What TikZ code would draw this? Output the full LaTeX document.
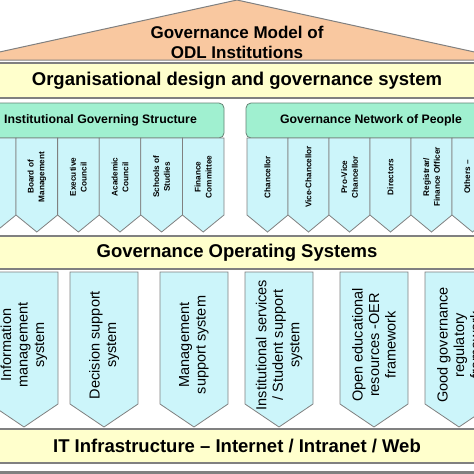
\documentclass[tikz,border=0pt]{standalone}
\usepackage{fontspec}
\setmainfont{Liberation Sans}
\usepackage{tikz}

\definecolor{roofc}{RGB}{249,200,160}
\definecolor{bandc}{RGB}{255,255,204}
\definecolor{grpc}{RGB}{160,240,208}
\definecolor{grpedge}{RGB}{100,130,115}
\definecolor{chevc}{RGB}{204,245,250}
\definecolor{edgec}{RGB}{128,128,128}

\begin{document}
\begin{tikzpicture}[x=1pt,y=-1pt,
	band/.style={draw=edgec,line width=1.5pt,fill=bandc,minimum width=490pt,inner sep=0pt,font=\fontsize{18.5}{22}\selectfont\bfseries},
	grp/.style={draw=grpedge,line width=0.8pt,fill=grpc,rounded corners=5pt,minimum height=35pt,inner sep=0pt,font=\fontsize{12.3}{14}\selectfont\bfseries},
	chev/.style={draw=edgec,line width=0.8pt,fill=chevc},
	roleword/.style={rotate=90,align=center,inner sep=0pt,font=\fontsize{8.2}{10.8}\selectfont\bfseries},
	sysword/.style={rotate=90,align=center,inner sep=0pt,font=\fontsize{14.5}{16.5}\selectfont}]
	
	\useasboundingbox (0,0) rectangle (474,474);
	\clip (0,0) rectangle (474,474);
	
	% roof
	\draw[draw=edgec,line width=1pt,fill=roofc] (237,0) -- (511,60) -- (-37,60) -- cycle;
	\node[align=center,inner sep=0pt,font=\fontsize{17}{20}\selectfont\bfseries] (title) at (237,42) {Governance Model of\\ODL Institutions};
	
	% bands
	\node[band,minimum height=35pt] (orgdesign) at (237,80.5) {Organisational design and governance system};
	\node[band,minimum height=33pt] (gos) at (237,252.5) {Governance Operating Systems};
	\node[band,minimum height=34pt] (itinfra) at (237,446) {IT Infrastructure -- Internet / Intranet / Web};
	
	% groups
	\node[grp,minimum width=247pt] (igs) at (100.5,120.5) {Institutional Governing Structure};
	\node[grp,minimum width=250pt] (gnp) at (371,120.5) {Governance Network of People};
	
	% governing structure
	\foreach \x/\t [count=\i] in {-25.6/{}, 16/{Board of\\Management}, 57.6/{Executive\\Council}, 99.2/{Academic\\Council}, 140.8/{Schools of\\Studies}, 182.4/{Finance\\Committee}} {
		\draw[chev] (\x,138) -- (\x+41.6,138) -- (\x+41.6,215) -- (\x+20.8,232) -- (\x,215) -- cycle;
		\node[roleword] (ig\i) at (\x+20.8,177) {\t};
	}
	
	% network of people
	\foreach \x/\t [count=\i] in {247/{Chancellor}, 288/{Vice-Chancellor}, 329/{Pro-Vice\\Chancellor}, 370/{Directors}, 411/{Registrar/\\Finance Officer}, 452/{Others --\\~}} {
		\draw[chev] (\x,138) -- (\x+41,138) -- (\x+41,215) -- (\x+20.5,232) -- (\x,215) -- cycle;
		\node[roleword] (np\i) at (\x+20.5,177) {\t};
	}
	
	% operating systems
	\foreach \x/\t [count=\i] in {-10/{Information\\management\\system}, 70/{Decision support\\system}, 160/{Management\\support system}, 245/{Institutional services\\/ Student support\\system}, 340/{Open educational\\resources -OER\\framework}, 425/{Good governance\\regulatory\\framework}} {
		\draw[chev] (\x,272) -- (\x+68,272) -- (\x+68,404) -- (\x+34,427) -- (\x,404) -- cycle;
		\node[sysword] (os\i) at (\x+34,345) {\t};
	}
	
	\fill[edgec] (0,470.5) rectangle (474,474);
	
\end{tikzpicture}
\end{document}
